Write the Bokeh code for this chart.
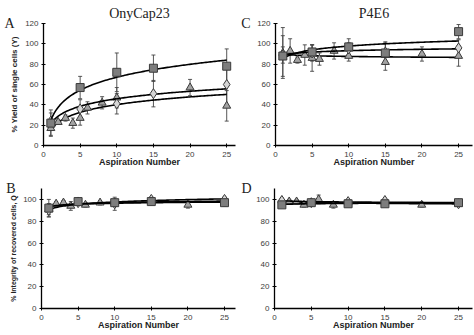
import numpy as np
from bokeh.plotting import figure
from bokeh.layouts import column, row
from bokeh.models import Range1d, Whisker, ColumnDataSource, FixedTicker, TeeHead, LinearAxis
from bokeh.embed import file_html
from bokeh.resources import INLINE

# ---------------- data ----------------
x_ticks = [0, 5, 10, 15, 20, 25]
yA_ticks = [0, 20, 40, 60, 80, 100, 120]
yB_ticks = [0, 20, 40, 60, 80, 100]

# Panel A (OnyCap23, yield)
A_sq_x = [1, 5, 10, 15, 25]
A_sq_y = [22, 57, 72, 76, 78]
A_sq_e = [13, 11, 19, 13, 17]
A_di_x = [1, 5, 10, 15, 25]
A_di_y = [24, 36, 41, 51, 60]
A_di_e = [8, 9, 10, 13, 20]
A_tr_x = [1, 2, 3, 4, 5, 6, 8, 10, 20, 25]
A_tr_y = [17, 23, 27, 22, 27, 37, 42, 47, 57, 39]
A_tr_e = [7, 2, 3, 5, 7, 6, 6, 10, 8, 15]

# Panel C (P4E6, yield)
C_sq_x = [1, 5, 10, 15, 25]
C_sq_y = [88, 92, 97, 91, 112]
C_sq_e = [20, 7, 8, 11, 7]
C_di_x = [1, 5, 10, 15, 25]
C_di_y = [89, 91, 95, 92, 96]
C_di_e = [8, 8, 6, 9, 8]
C_tr_x = [1, 2, 3, 4, 5, 6, 8, 10, 15, 20, 25]
C_tr_y = [91, 93, 84, 89, 86, 85, 93, 88, 82, 90, 88]
C_tr_e = [25, 12, 3, 10, 13, 6, 8, 5, 8, 7, 10]

# Panel B (OnyCap23, integrity)
B_sq_x = [1, 5, 10, 15, 25]
B_sq_y = [92, 98, 97, 98, 97]
B_sq_e = [8, 2, 3, 2, 3]
B_di_x = [1, 5, 10, 15, 25]
B_di_y = [90, 97, 96, 100, 100]
B_di_e = [6, 2, 6, 2, 2]
B_tr_x = [1, 2, 3, 4, 5, 6, 8, 10, 15, 20, 25]
B_tr_y = [91, 96, 97, 94, 98, 95, 97, 97, 98, 95, 97]
B_tr_e = [5, 2, 2, 4, 2, 2, 2, 3, 2, 3, 3]

# Panel D (P4E6, integrity)
D_sq_x = [1, 5, 10, 15, 25]
D_sq_y = [95, 97, 96, 96, 97]
D_sq_e = [2, 2, 2, 2, 2]
D_di_x = [1, 5, 10, 15, 25]
D_di_y = [99, 97, 98, 99, 96]
D_di_e = [2, 1, 2, 2, 2]
D_tr_x = [1, 2, 3, 4, 5, 6, 8, 10, 15, 20, 25]
D_tr_y = [99, 98, 98, 95, 97, 100, 95, 97, 98, 95, 96]
D_tr_e = [2, 2, 2, 2, 2, 4, 3, 2, 2, 2, 2]

FONT = "Liberation Sans"
SERIF = "Liberation Serif"
EDGE = "#3a3a3a"


def make_panel(w, h, left, right, top, bottom, xend, yend, yticks, ylabel, series,
               title=None, title_offset=0, title_standoff=5, letter=None, letter_standoff=0,
               ylabel_size="8px"):
    p = figure(width=w, height=h, output_backend="svg", toolbar_location=None,
               x_range=Range1d(0, xend), y_range=Range1d(0, yend),
               min_border_left=left, min_border_right=right,
               min_border_top=top, min_border_bottom=bottom)
    p.outline_line_color = None
    p.grid.visible = False
    p.background_fill_color = "white"
    p.border_fill_color = "white"
    for ax in (p.xaxis[0], p.yaxis[0]):
        ax.axis_line_color = "black"
        ax.axis_line_width = 1.3
        ax.major_tick_line_color = "black"
        ax.major_tick_in = 2
        ax.major_tick_out = 2
        ax.minor_tick_line_color = None
        ax.major_label_text_font = FONT
        ax.major_label_text_font_size = "8px"
        ax.major_label_text_color = "#3c3c3c"
        ax.axis_label_text_font = FONT
        ax.axis_label_text_font_style = "bold"
        ax.axis_label_text_color = "#222222"
    p.xaxis.ticker = FixedTicker(ticks=x_ticks)
    p.yaxis.ticker = FixedTicker(ticks=yticks)
    p.xaxis.major_label_standoff = 4
    p.yaxis.major_label_standoff = 3
    p.xaxis.axis_label = "Aspiration Number"
    p.xaxis.axis_label_text_font_size = "9px"
    p.xaxis.axis_label_standoff = -3
    if ylabel:
        p.yaxis.axis_label = ylabel
        p.yaxis.axis_label_text_font_size = ylabel_size
        p.yaxis.axis_label_standoff = 3

    for (xs, ys, es, marker, size, fill) in series:
        xs_a = np.array(xs, dtype=float)
        ys_a = np.array(ys, dtype=float)
        es_a = np.array(es, dtype=float)
        # logarithmic trend line fitted to the data
        b, a = np.polyfit(np.log(xs_a), ys_a, 1)
        xf = np.linspace(1, 25, 120)
        p.line(xf, a + b * np.log(xf), line_color="black", line_width=1.6)
        src = ColumnDataSource(dict(x=xs_a, y=ys_a, lo=ys_a - es_a, hi=ys_a + es_a))
        wh = Whisker(base="x", lower="lo", upper="hi", source=src,
                     line_color="#444444", line_width=0.9,
                     upper_head=TeeHead(size=4, line_color="#444444", line_width=0.9),
                     lower_head=TeeHead(size=4, line_color="#444444", line_width=0.9))
        p.add_layout(wh)
        p.scatter("x", "y", source=src, marker=marker, size=size,
                  fill_color=fill, line_color=EDGE, line_width=1)

    if title:
        p.title.text = title
        p.title.align = "center"
        p.title.text_font = SERIF
        p.title.text_font_size = "14px"
        p.title.text_font_style = "normal"
        p.title.text_color = "#222222"
        p.title.standoff = title_standoff
        p.title.offset = title_offset
    if letter:
        # panel letter: an outer, line-less axis whose only tick label is the letter
        lax = LinearAxis(ticker=FixedTicker(ticks=[yend]),
                         major_label_overrides={yend: letter})
        lax.axis_line_color = None
        lax.major_tick_line_color = None
        lax.minor_tick_line_color = None
        lax.major_tick_in = 0
        lax.major_tick_out = 0
        lax.major_label_standoff = letter_standoff
        lax.major_label_text_font = SERIF
        lax.major_label_text_font_size = "14px"
        lax.major_label_text_color = "#222222"
        lax.major_label_text_baseline = "bottom"
        p.add_layout(lax, "left")
    return p


def series_of(sqx, sqy, sqe, dix, diy, die, trx, tr_y, tre):
    return [
        (trx, tr_y, tre, "triangle", 8, "#a3a3a3"),
        (dix, diy, die, "diamond", 10, "#d6d6d6"),
        (sqx, sqy, sqe, "square", 8, "#7d7d7d"),
    ]


pA = make_panel(237, 170, 43, 2, 21, 25, 26.2, 120, yA_ticks, "% Yield of single cells (Y)",
                series_of(A_sq_x, A_sq_y, A_sq_e, A_di_x, A_di_y, A_di_e, A_tr_x, A_tr_y, A_tr_e),
                title="OnyCap23", title_offset=-7, title_standoff=5,
                letter="A", letter_standoff=-7)
pC = make_panel(237, 170, 38, 2, 22, 24, 26.9, 120, yA_ticks, None,
                series_of(C_sq_x, C_sq_y, C_sq_e, C_di_x, C_di_y, C_di_e, C_tr_x, C_tr_y, C_tr_e),
                title="P4E6", title_offset=-3, title_standoff=6,
                letter="C", letter_standoff=4)
pB = make_panel(237, 165, 41, 2, 18, 25, 26.5, 110, yB_ticks, "% Integrity of recovered cells, Q",
                series_of(B_sq_x, B_sq_y, B_sq_e, B_di_x, B_di_y, B_di_e, B_tr_x, B_tr_y, B_tr_e),
                letter="B", letter_standoff=-8, ylabel_size="7px")
pD = make_panel(237, 165, 37, 2, 16, 27, 26.9, 110, yB_ticks, None,
                series_of(D_sq_x, D_sq_y, D_sq_e, D_di_x, D_di_y, D_di_e, D_tr_x, D_tr_y, D_tr_e),
                letter="D", letter_standoff=2)

layout = column(row(pA, pC, spacing=0), row(pB, pD, spacing=0), spacing=0)

open("out.html", "w").write(file_html(layout, INLINE))
